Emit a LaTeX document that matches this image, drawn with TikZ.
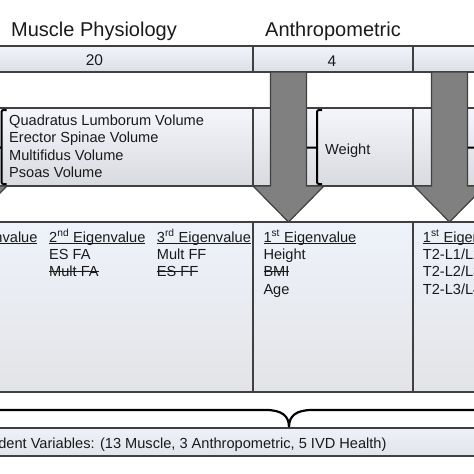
\documentclass[tikz,border=0pt]{standalone}
\usepackage{fontspec}
\setmainfont{Liberation Sans}
\definecolor{edgegray}{HTML}{404040}
\definecolor{bartop}{HTML}{F2F4FA}
\definecolor{barbot}{HTML}{DCDFE6}
\definecolor{midtop}{HTML}{F4F6FC}
\definecolor{midbot}{HTML}{D9DADF}
\definecolor{eigtop}{HTML}{EEF2FA}
\definecolor{eigbot}{HTML}{E3E4E7}
\definecolor{indtop}{HTML}{EEF1F8}
\definecolor{indbot}{HTML}{E2E4EA}
\definecolor{arrowgray}{HTML}{808080}
\definecolor{inktext}{HTML}{1A1A1A}

\newsavebox\linebox
\newcommand\ulined[1]{\sbox\linebox{#1}\rlap{\rule[-0.14em]{\wd\linebox}{0.07em}}\usebox\linebox}
\newcommand\struck[1]{\sbox\linebox{#1}\rlap{\rule[0.3em]{\wd\linebox}{0.07em}}\usebox\linebox}

\tikzset{
  cell/.style={draw=edgegray, line width=1.3pt, inner sep=0pt, outer sep=0pt, anchor=north west},
  barcell/.style={cell, top color=bartop, bottom color=barbot, minimum height=26pt},
  midcell/.style={cell, top color=midtop, bottom color=midbot, minimum height=78pt},
  eigcell/.style={cell, top color=eigtop, bottom color=eigbot, minimum height=170pt},
  txt/.style={inner sep=0pt, anchor=base west, text=inktext, font=\fontsize{14.6}{17.3}\selectfont},
  heading/.style={inner sep=0pt, anchor=base, text=inktext, font=\fontsize{20}{24}\selectfont},
  bigarrow/.style={draw=edgegray, line width=1.2pt, fill=arrowgray, line join=miter},
  bracket/.style={draw=black, line width=2pt, rounded corners=2pt},
}

\begin{document}
\begin{tikzpicture}[x=1pt, y=-1pt]
  \useasboundingbox (0,0) rectangle (474,474);
  \clip (0,0) rectangle (474,474);

  % column headings
  \node[heading] (hmus) at (94,36) {Muscle Physiology};
  \node[heading] (hant) at (333,36) {Anthropometric};

  % variable counts
  \node[barcell, minimum width=317pt] (bmus) at (-64,46) {};
  \node[barcell, minimum width=160pt] (bant) at (253,46) {};
  \node[barcell, minimum width=160pt] (bivd) at (413,46) {};
  \node[txt, anchor=base, font=\fontsize{15.5}{18}\selectfont] (nmus) at (94.5,65) {20};
  \node[txt, anchor=base, font=\fontsize{15.5}{18}\selectfont] (nant) at (332,66.5) {4};

  % measured variables
  \node[midcell, minimum width=317pt] (vmus) at (-64,108) {};
  \node[midcell, minimum width=160pt] (vant) at (253,108) {};
  \node[midcell, minimum width=160pt] (vivd) at (413,108) {};

  % eigenvalue boxes
  \node[eigcell, minimum width=317pt] (emus) at (-64,222) {};
  \node[eigcell, minimum width=160pt] (eant) at (253,222) {};
  \node[eigcell, minimum width=160pt] (eivd) at (413,222) {};

  % independent variables
  \node[cell, top color=indtop, bottom color=indbot, minimum width=600pt, minimum height=28pt] (indep) at (-64,428) {};

  % block arrows
  \foreach \cx in {-28.5,288.5,449.5}
    \draw[bigarrow] (\cx-18,72) -- (\cx-18,186) -- (\cx-35.5,186) -- (\cx,222)
      -- (\cx+35.5,186) -- (\cx+18,186) -- (\cx+18,72) -- cycle;

  % brackets
  \foreach \bx in {1.5,317,478}
    \draw[bracket] (\bx+5,110) -- (\bx,110) -- (\bx,184) -- (\bx+5,184)
      (\bx,147.5) -- (\bx-10,147.5);

  \foreach \t [count=\i from 0] in {Quadratus Lumborum Volume, Erector Spinae Volume, Multifidus Volume, Psoas Volume}
    \node[txt] (mv\i) at (9,125.7+17.2*\i) {\t};
  \node[txt] (weight) at (325,154) {Weight};

  % eigenvalue lists
  \node[txt, anchor=base east] (m1h) at (37.7,242) {\ulined{1\textsuperscript{st} Eigenvalue}};
  \node[txt] (m2h) at (49,242) {\ulined{2\textsuperscript{nd} Eigenvalue}};
  \node[txt] (m2a) at (49,259.3) {ES FA};
  \node[txt] (m2b) at (49,276.6) {\struck{Mult FA}};
  \node[txt] (m3h) at (156.7,242) {\ulined{3\textsuperscript{rd} Eigenvalue}};
  \node[txt] (m3a) at (156.7,259.3) {Mult FF};
  \node[txt] (m3b) at (156.7,276.6) {\struck{ES FF}};
  \node[txt] (a1h) at (263.3,242) {\ulined{1\textsuperscript{st} Eigenvalue}};
  \node[txt] (a1a) at (263.3,259.3) {Height};
  \node[txt] (a1b) at (263.3,276.6) {\struck{BMI}};
  \node[txt] (a1c) at (263.3,294) {Age};
  \node[txt] (d1h) at (422.7,242) {\ulined{1\textsuperscript{st} Eigenvalue}};
  \node[txt] (d1a) at (422.7,259.3) {T2-L1/L2};
  \node[txt] (d1b) at (422.7,276.6) {T2-L2/L3};
  \node[txt] (d1c) at (422.7,294) {T2-L3/L4};

  % gathering brace
  \draw[line width=2.2pt] (-10,410) -- (266,410) .. controls (282,410) and (289,416) .. (289,427)
    .. controls (289,416) and (296,410) .. (312,410) -- (484,410);
  \node[txt, anchor=base east] (indtxt) at (386.7,448.3) {Independent Variables: (13 Muscle, 3 Anthropometric, 5 IVD Health)};
\end{tikzpicture}
\end{document}
